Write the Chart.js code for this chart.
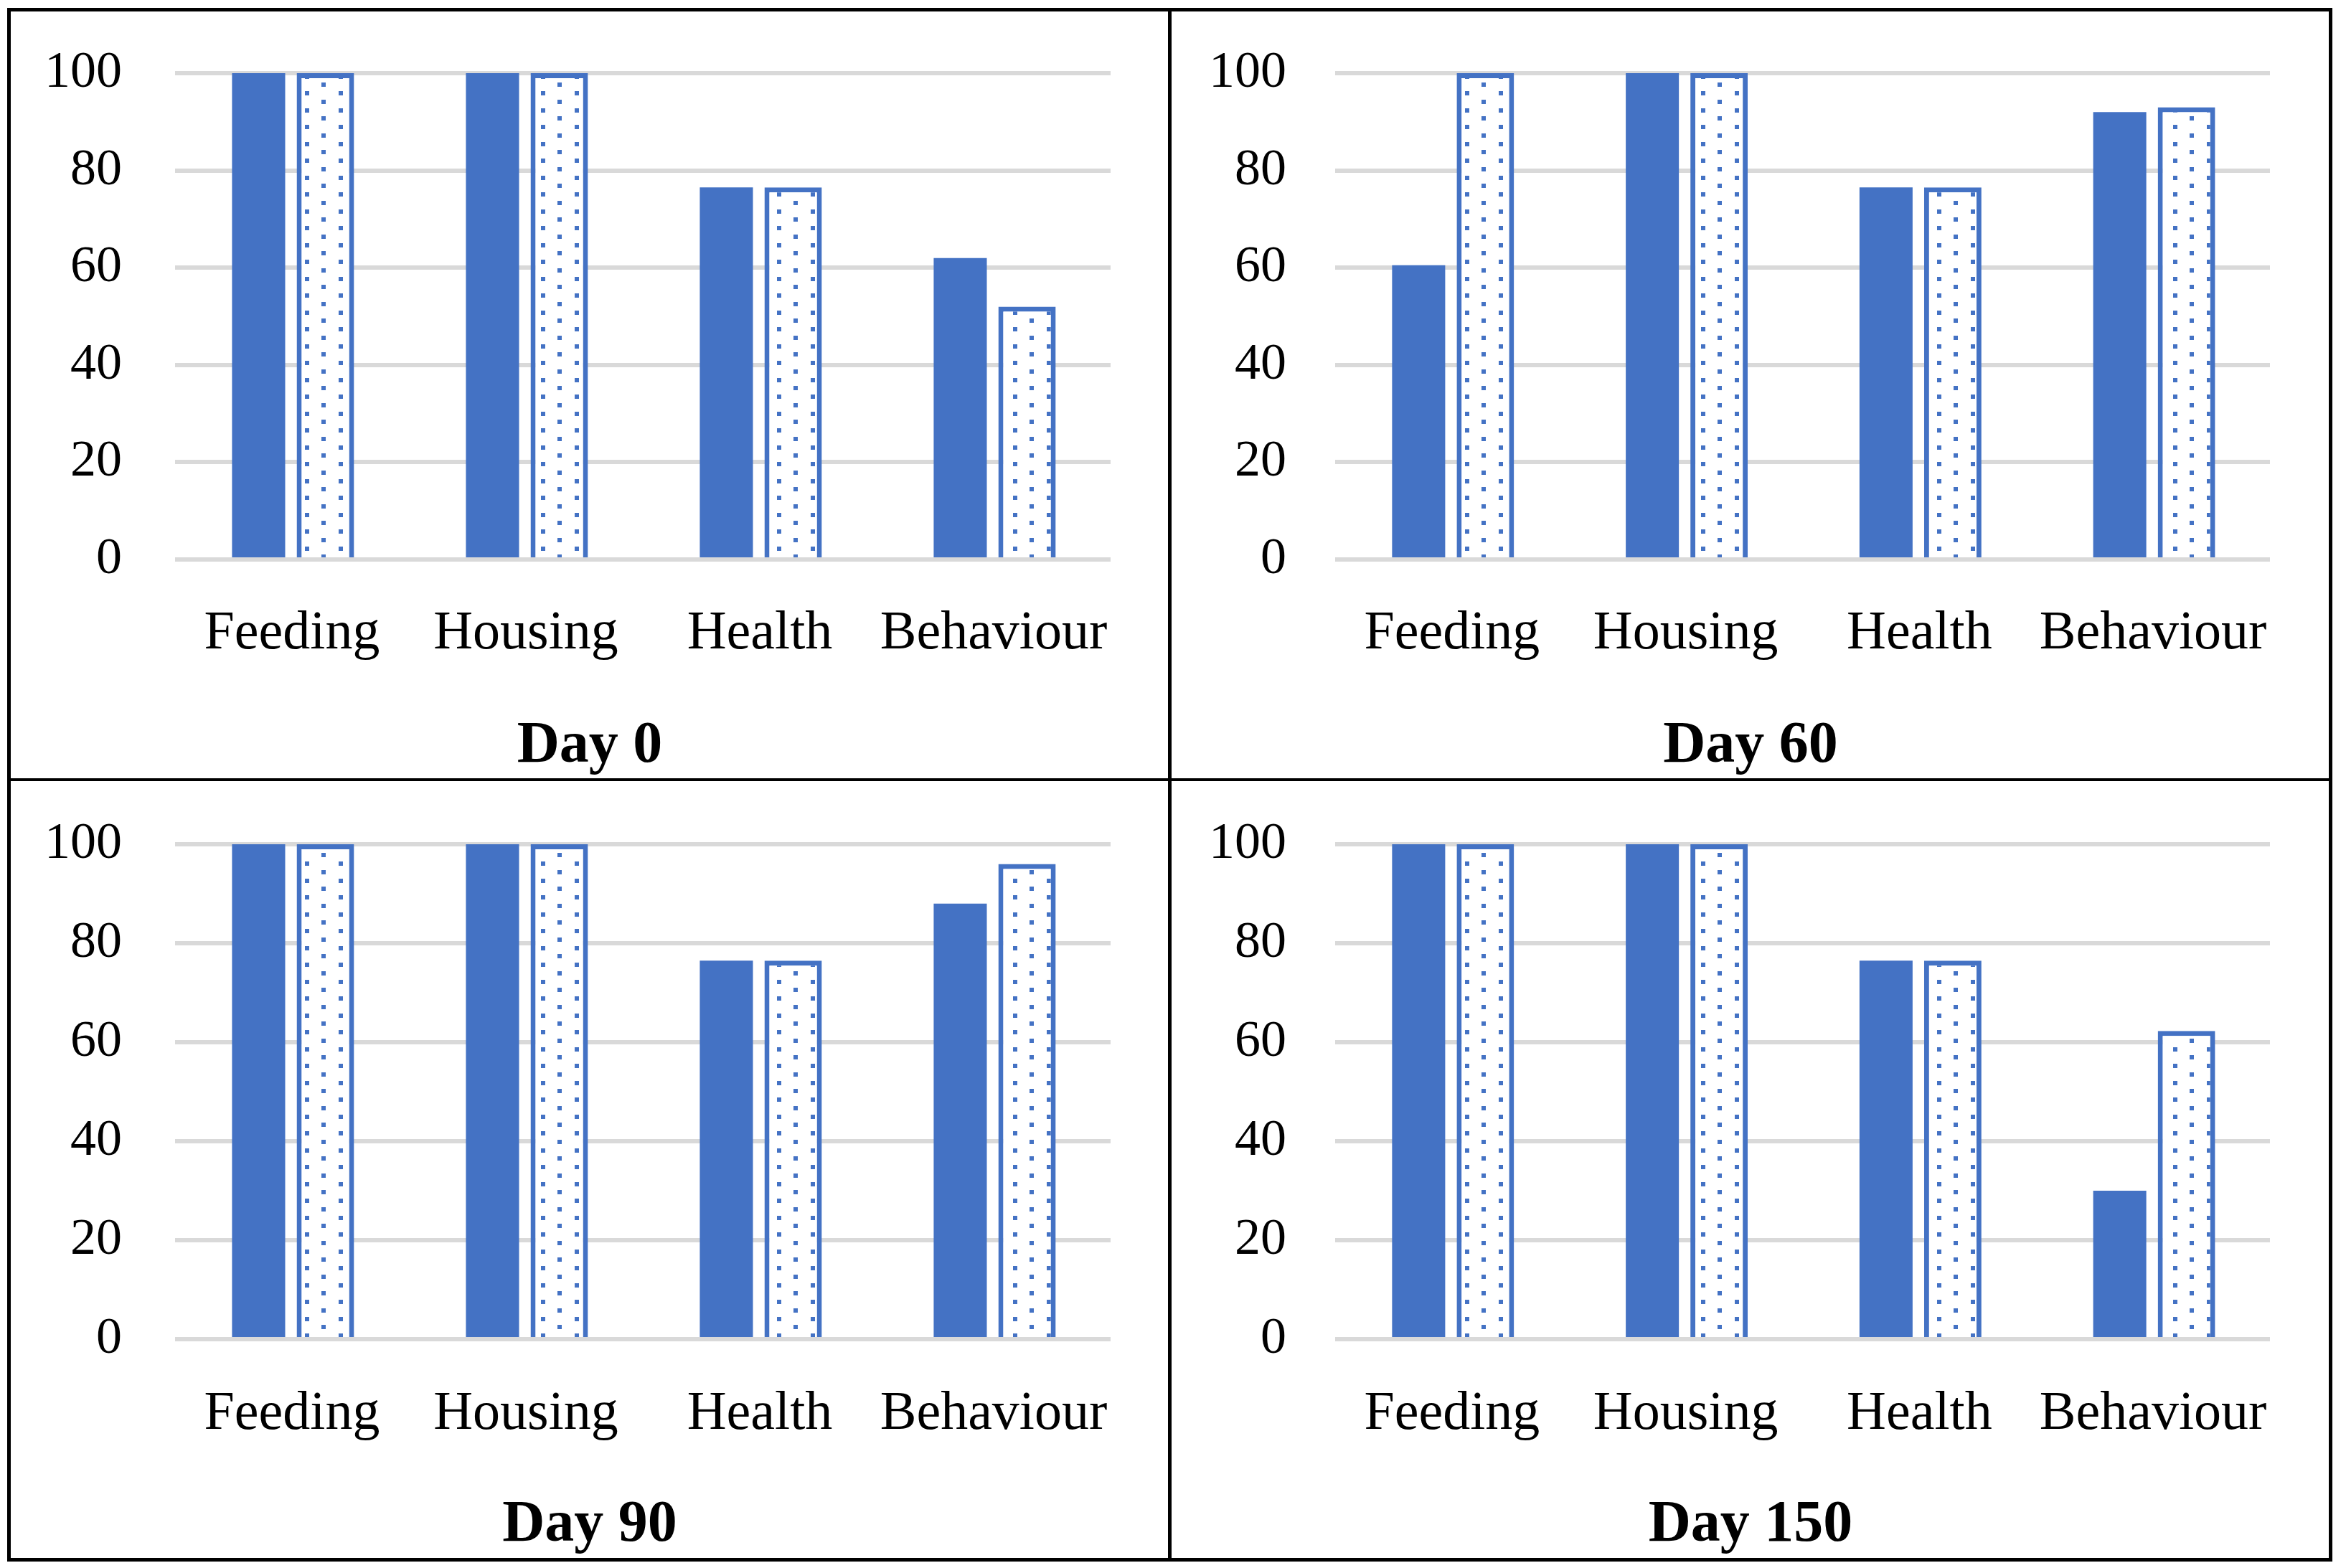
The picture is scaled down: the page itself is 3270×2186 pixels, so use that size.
<!DOCTYPE html>
<html>
<head>
<meta charset="utf-8">
<script src="https://cdn.jsdelivr.net/npm/chart.js@4.4.1/dist/chart.umd.min.js"></script>
<style>
  html, body { margin: 0; padding: 0; background: #fff; }
  #page { position: relative; width: 3270px; height: 2186px; overflow: hidden; }
  canvas { position: absolute; }
  .line { position: absolute; background: #000; }
</style>
</head>
<body>
<div id="page">
  <div class="line" style="left:10px;top:11px;width:3241px;height:5px"></div>
  <div class="line" style="left:10px;top:2172px;width:3241px;height:5px"></div>
  <div class="line" style="left:10px;top:11px;width:5px;height:2166px"></div>
  <div class="line" style="left:3246px;top:11px;width:5px;height:2166px"></div>
  <div class="line" style="left:1628px;top:11px;width:5px;height:2166px"></div>
  <div class="line" style="left:10px;top:1085px;width:3241px;height:4px"></div>
</div>
<script>
const categories = ['Feeding', 'Housing', 'Health', 'Behaviour'];
const panelTitles = ['Day 0', 'Day 60', 'Day 90', 'Day 150'];
const yTicks = [0, 20, 40, 60, 80, 100];

// solid bars / dotted bars per panel
const day0Solid = [100, 100, 76.5, 62];
const day0Dotted = [100, 100, 76.5, 52];
const day60Solid = [60.5, 100, 76.5, 92];
const day60Dotted = [100, 100, 76.5, 93];
const day90Solid = [100, 100, 76.5, 88];
const day90Dotted = [100, 100, 76.5, 96];
const day150Solid = [100, 100, 76.5, 30];
const day150Dotted = [100, 100, 76.5, 62.3];

const solidSeries = [day0Solid, day60Solid, day90Solid, day150Solid];
const dottedSeries = [day0Dotted, day60Dotted, day90Dotted, day150Dotted];

const blue = '#4472C4';
const FONT = "'Liberation Serif', 'Times New Roman', serif";

// page geometry of each panel (px)
const panels = [
  { left: 17, top: 17, width: 1610, height: 1068, chartLeft: 244, chartRight: 1548, chartTop: 102, chartBottom: 780, labelRight: 170, labelBase: 903, titleBase: 1062 },
  { left: 1634, top: 17, width: 1612, height: 1068, chartLeft: 1861, chartRight: 3164, chartTop: 102, chartBottom: 780, labelRight: 1793, labelBase: 903, titleBase: 1062 },
  { left: 17, top: 1091, width: 1610, height: 1081, chartLeft: 244, chartRight: 1548, chartTop: 1177, chartBottom: 1867, labelRight: 170, labelBase: 1991, titleBase: 2148 },
  { left: 1634, top: 1091, width: 1612, height: 1081, chartLeft: 1861, chartRight: 3164, chartTop: 1177, chartBottom: 1867, labelRight: 1793, labelBase: 1991, titleBase: 2148 }
];

function dotPattern(ctx) {
  const c = document.createElement('canvas');
  c.width = 47; c.height = 47;
  const p = c.getContext('2d');
  p.fillStyle = '#fff';
  p.fillRect(0, 0, 47, 47);
  p.fillStyle = blue;
  p.fillRect(8, 4, 6, 6);
  p.fillRect(8, 28, 6, 6);
  p.fillRect(32, 16, 6, 6);
  p.fillRect(32, 40, 6, 6);
  return ctx.createPattern(c, 'repeat');
}

const tickSize = 76;
const titleSize = 82;

panels.forEach((g, i) => {
  const canvas = document.createElement('canvas');
  canvas.width = g.width;
  canvas.height = g.height;
  canvas.style.left = g.left + 'px';
  canvas.style.top = g.top + 'px';
  canvas.style.width = g.width + 'px';
  canvas.style.height = g.height + 'px';
  document.getElementById('page').appendChild(canvas);
  const ctx = canvas.getContext('2d');

  const bottom = g.top + g.height;
  const side = g.left + g.width - g.chartRight;
  const titleMid = g.titleBase + 6 - 0.33 * titleSize;
  const titlePadBottom = bottom - titleMid - titleSize / 2;
  const titleBlock = titleSize + titlePadBottom;
  const xHeight = bottom - titleBlock - g.chartBottom;
  const xPad = (g.labelBase + 6 - 0.33 * tickSize) - g.chartBottom - tickSize / 2;

  new Chart(ctx, {
    type: 'bar',
    data: {
      labels: categories,
      datasets: [
        {
          label: 'Solid',
          data: solidSeries[i],
          backgroundColor: blue,
          borderWidth: 0,
          barPercentage: 0.796,
          categoryPercentage: 0.571
        },
        {
          label: 'Dotted',
          data: dottedSeries[i],
          backgroundColor: dotPattern(ctx),
          borderColor: blue,
          borderWidth: 7,
          barPercentage: 0.86,
          categoryPercentage: 0.571
        }
      ]
    },
    options: {
      responsive: false,
      animation: false,
      devicePixelRatio: 1,
      layout: {
        padding: { top: g.chartTop - g.top, right: 0, bottom: 0, left: 0 }
      },
      plugins: {
        legend: { display: false },
        tooltip: { enabled: false },
        title: {
          display: true,
          text: panelTitles[i],
          position: 'bottom',
          color: '#000',
          font: { family: FONT, size: titleSize, weight: 'bold', lineHeight: 1 },
          padding: { top: 0, bottom: titlePadBottom }
        }
      },
      scales: {
        x: {
          grid: { display: false, drawTicks: false },
          border: { display: false },
          ticks: {
            color: '#000',
            font: { family: FONT, size: tickSize, lineHeight: 1 },
            padding: xPad,
            maxRotation: 0,
            autoSkip: false
          },
          afterFit: (s) => { s.height = xHeight; }
        },
        y: {
          min: yTicks[0],
          max: yTicks[yTicks.length - 1],
          grid: { color: '#d9d9d9', lineWidth: 6, drawTicks: false },
          border: { display: false },
          ticks: {
            stepSize: yTicks[1] - yTicks[0],
            color: '#000',
            font: { family: FONT, size: 72 },
            padding: g.chartLeft - g.labelRight
          },
          afterFit: (s) => {
            s.width = g.chartLeft - g.left;
            s.paddingTop = 0;
            s.paddingBottom = 0;
          }
        },
        // empty right-hand spacer so the plot ends where the reference does
        yRight: {
          axis: 'y',
          position: 'right',
          grid: { display: false, drawTicks: false },
          border: { display: false },
          ticks: { display: false },
          afterFit: (s) => {
            s.width = side;
            s.paddingTop = 0;
            s.paddingBottom = 0;
          }
        }
      }
    }
  });
});
</script>
</body>
</html>
